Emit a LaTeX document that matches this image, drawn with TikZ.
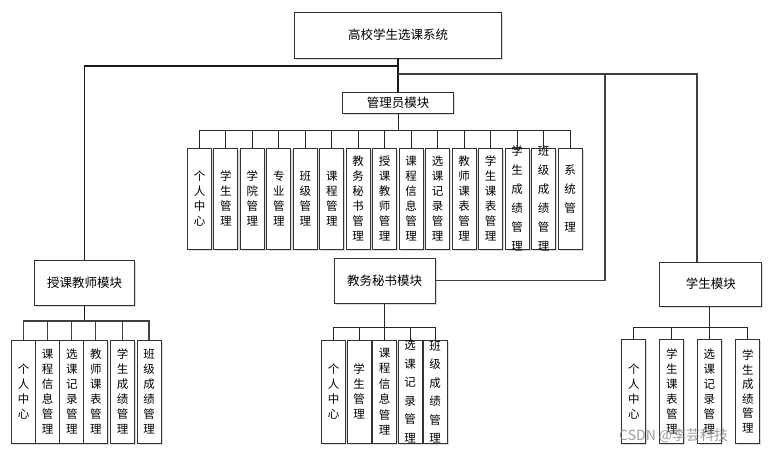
\documentclass[tikz,border=0pt]{standalone}
\usepackage{fontspec}
\setmainfont{Noto Sans CJK SC}
\usetikzlibrary{shadows}
\begin{document}
\begin{tikzpicture}[x=1pt,y=-1pt,
  box/.style={draw=black!80, line width=0.9pt, fill=white, inner sep=0pt, rectangle,
    general shadow={fill=black!14, shadow xshift=1.6pt, shadow yshift=-1.6pt}},
  mod/.style={box, font=\fontsize{12.5}{15}\selectfont},
  leaf/.style={box, minimum width=24pt},
  vt/.style={align=center, inner sep=0pt},
  heavy/.style={draw=black!90, line width=1.7pt},
  mid/.style={draw=black!75, line width=1.1pt},
  bus/.style={draw=black!85, line width=1pt}]
\useasboundingbox (0,0) rectangle (773,454);

% module boxes
\node[mod, minimum width=207pt, minimum height=46pt] (root) at (398,35) {高校学生选课系统};
\node[mod, minimum width=111pt, minimum height=21pt] (adm) at (398,102.5) {管理员模块};
\node[mod, minimum width=100pt, minimum height=45pt] (tea) at (84.5,282.5) {授课教师模块};
\node[mod, minimum width=101pt, minimum height=45pt] (sec) at (384.7,280.8) {教务秘书模块};
\node[mod, minimum width=102pt, minimum height=44pt] (stu) at (710.8,284) {学生模块};

% top-level connectors
\coordinate (jl) at (398,66);
\coordinate (jr) at (398,74);
\coordinate (jsec) at (605,74);
\coordinate (jstu) at (697,74);
\draw[heavy] (root.south) -- (adm.north);
\draw[heavy] (jl) -| (tea.north);
\draw[mid] (jr) -- (jstu) -- (jstu |- stu.north);
\draw[mid] (sec.east) -| (jsec);

% admin leaves
\coordinate (admbus) at (398,131);
\draw[bus] (adm.south) -- (admbus);
\foreach \x/\n/\t/\p in {
  199.5/a1/{个\\人\\中\\心}/15,
  225.9/a2/{学\\生\\管\\理}/15,
  252.4/a3/{学\\院\\管\\理}/15,
  278.9/a4/{专\\业\\管\\理}/15,
  305.4/a5/{班\\级\\管\\理}/15,
  331.8/a6/{课\\程\\管\\理}/15,
  358.2/a7/{教\\务\\秘\\书\\管\\理}/15,
  384.7/a8/{授\\课\\教\\师\\管\\理}/15,
  411.2/a9/{课\\程\\信\\息\\管\\理}/15,
  437.6/a10/{选\\课\\记\\录\\管\\理}/15,
  464.1/a11/{教\\师\\课\\表\\管\\理}/15,
  490.6/a12/{学\\生\\课\\表\\管\\理}/15,
  517.0/a13/{学\\生\\成\\绩\\管\\理}/19,
  543.5/a14/{班\\级\\成\\绩\\管\\理}/19,
  570.0/a15/{系\\统\\管\\理}/19} {
  \node[leaf, minimum height=101pt] (\n) at (\x,198.5) {};
  \node[vt, font=\fontsize{11.5}{\p}\selectfont] (\n-t) at (\n) {\t};
  \draw[bus] (admbus) -| (\n.north);
}

% teacher leaves
\coordinate (teabus) at (tea.south |- 0,321);
\draw[heavy] (tea.south) -- (teabus);
\foreach \x/\n/\t/\p in {
  23.7/t1/{个\\人\\中\\心}/15,
  47.7/t2/{课\\程\\信\\息\\管\\理}/15,
  71.8/t3/{选\\课\\记\\录\\管\\理}/15,
  95.8/t4/{教\\师\\课\\表\\管\\理}/15,
  122.7/t5/{学\\生\\成\\绩\\管\\理}/15,
  149.0/t6/{班\\级\\成\\绩\\管\\理}/15} {
  \node[leaf, minimum height=103pt] (\n) at (\x,391.7) {};
  \node[vt, font=\fontsize{11.5}{\p}\selectfont] (\n-t) at (\n) {\t};
  \draw[mid] (teabus) -| (\n.north);
}

% secretary leaves
\coordinate (secbus) at (sec.south |- 0,327);
\draw[bus] (sec.south) -- (secbus);
\foreach \x/\n/\t/\p in {
  333.7/s1/{个\\人\\中\\心}/15,
  359.2/s2/{学\\生\\管\\理}/15,
  384.7/s3/{课\\程\\信\\息\\管\\理}/15.5,
  410.0/s4/{选\\课\\记\\录\\管\\理}/18.5,
  435.0/s5/{班\\级\\成\\绩\\管\\理}/18.5} {
  \node[leaf, minimum height=103pt] (\n) at (\x,391.7) {};
  \node[vt, font=\fontsize{11.5}{\p}\selectfont] (\n-t) at (\n) {\t};
  \draw[bus] (secbus) -| (\n.north);
}

% student leaves
\coordinate (stubus) at (709.3,327);
\draw[bus] (stubus |- stu.south) -- (stubus);
\foreach \x/\n/\t/\p in {
  633.8/u1/{个\\人\\中\\心}/15,
  671.8/u2/{学\\生\\课\\表\\管\\理}/15,
  709.3/u3/{选\\课\\记\\录\\管\\理}/15,
  747.8/u4/{学\\生\\成\\绩\\管\\理}/14.5} {
  \node[leaf, minimum height=104pt] (\n) at (\x,391.3) {};
  \node[vt, font=\fontsize{11.5}{\p}\selectfont] (\n-t) at (\n) {\t};
  \draw[bus] (stubus) -| (\n.north);
}

% watermark
\node[anchor=west, inner sep=0pt, text=black!45, opacity=0.85, font=\fontsize{14}{14}\selectfont] (wm) at (619,436) {CSDN @李芸科技};
\end{tikzpicture}
\end{document}
